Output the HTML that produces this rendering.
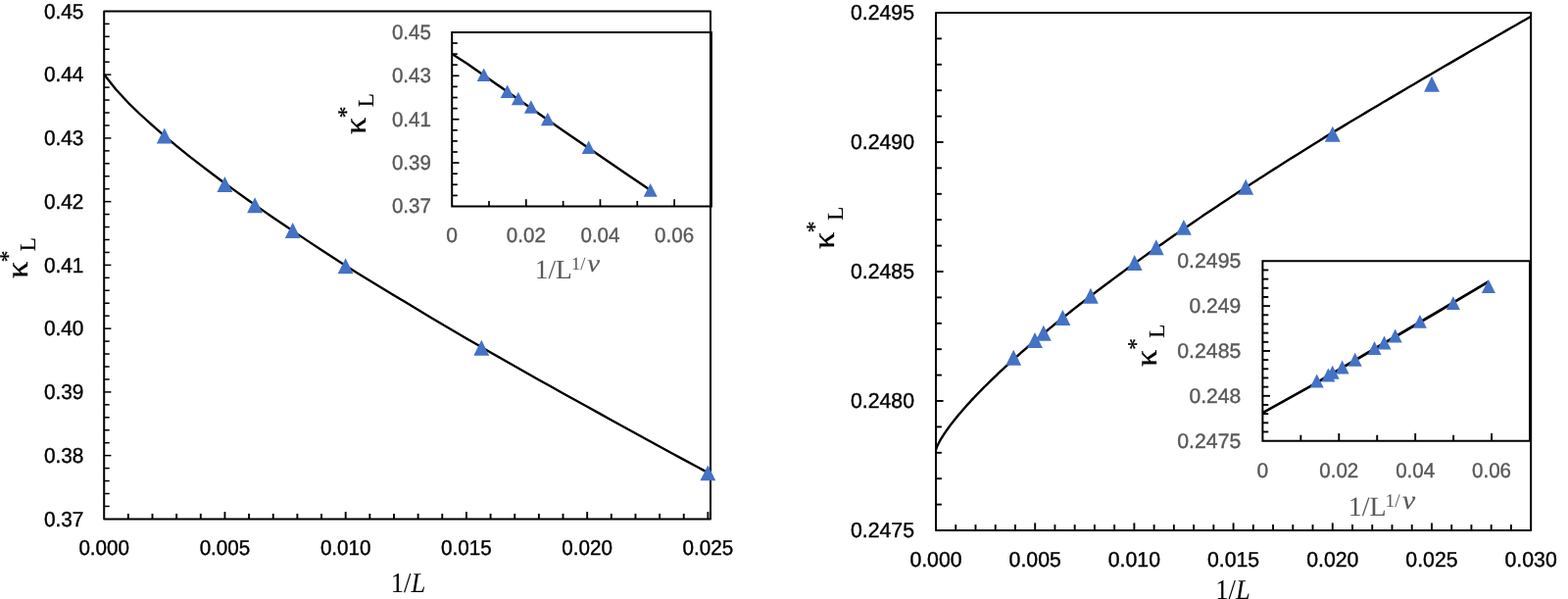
<!DOCTYPE html>
<html lang="en"><head><meta charset="utf-8"><title>Finite-size scaling plots</title>
<style>html,body{margin:0;padding:0;background:#fff;}body{width:1600px;height:611px;overflow:hidden;}svg{display:block;}</style>
</head><body>
<svg width="1600" height="611" viewBox="0 0 1600 611" text-rendering="geometricPrecision">
<rect width="1600" height="611" fill="#fff"/>
<path d="M106.2,529.4 V11.4 H725.0 V529.4 Z" fill="none" stroke="#000" stroke-width="2" stroke-linejoin="round"/>
<line x1="106.20" y1="24.35" x2="111.70" y2="24.35" stroke="#000" stroke-width="1.5"/>
<line x1="106.20" y1="37.30" x2="111.70" y2="37.30" stroke="#000" stroke-width="1.5"/>
<line x1="106.20" y1="50.25" x2="111.70" y2="50.25" stroke="#000" stroke-width="1.5"/>
<line x1="106.20" y1="63.20" x2="111.70" y2="63.20" stroke="#000" stroke-width="1.5"/>
<line x1="106.20" y1="76.15" x2="113.40" y2="76.15" stroke="#000" stroke-width="1.5"/>
<line x1="106.20" y1="89.10" x2="111.70" y2="89.10" stroke="#000" stroke-width="1.5"/>
<line x1="106.20" y1="102.05" x2="111.70" y2="102.05" stroke="#000" stroke-width="1.5"/>
<line x1="106.20" y1="115.00" x2="111.70" y2="115.00" stroke="#000" stroke-width="1.5"/>
<line x1="106.20" y1="127.95" x2="111.70" y2="127.95" stroke="#000" stroke-width="1.5"/>
<line x1="106.20" y1="140.90" x2="113.40" y2="140.90" stroke="#000" stroke-width="1.5"/>
<line x1="106.20" y1="153.85" x2="111.70" y2="153.85" stroke="#000" stroke-width="1.5"/>
<line x1="106.20" y1="166.80" x2="111.70" y2="166.80" stroke="#000" stroke-width="1.5"/>
<line x1="106.20" y1="179.75" x2="111.70" y2="179.75" stroke="#000" stroke-width="1.5"/>
<line x1="106.20" y1="192.70" x2="111.70" y2="192.70" stroke="#000" stroke-width="1.5"/>
<line x1="106.20" y1="205.65" x2="113.40" y2="205.65" stroke="#000" stroke-width="1.5"/>
<line x1="106.20" y1="218.60" x2="111.70" y2="218.60" stroke="#000" stroke-width="1.5"/>
<line x1="106.20" y1="231.55" x2="111.70" y2="231.55" stroke="#000" stroke-width="1.5"/>
<line x1="106.20" y1="244.50" x2="111.70" y2="244.50" stroke="#000" stroke-width="1.5"/>
<line x1="106.20" y1="257.45" x2="111.70" y2="257.45" stroke="#000" stroke-width="1.5"/>
<line x1="106.20" y1="270.40" x2="113.40" y2="270.40" stroke="#000" stroke-width="1.5"/>
<line x1="106.20" y1="283.35" x2="111.70" y2="283.35" stroke="#000" stroke-width="1.5"/>
<line x1="106.20" y1="296.30" x2="111.70" y2="296.30" stroke="#000" stroke-width="1.5"/>
<line x1="106.20" y1="309.25" x2="111.70" y2="309.25" stroke="#000" stroke-width="1.5"/>
<line x1="106.20" y1="322.20" x2="111.70" y2="322.20" stroke="#000" stroke-width="1.5"/>
<line x1="106.20" y1="335.15" x2="113.40" y2="335.15" stroke="#000" stroke-width="1.5"/>
<line x1="106.20" y1="348.10" x2="111.70" y2="348.10" stroke="#000" stroke-width="1.5"/>
<line x1="106.20" y1="361.05" x2="111.70" y2="361.05" stroke="#000" stroke-width="1.5"/>
<line x1="106.20" y1="374.00" x2="111.70" y2="374.00" stroke="#000" stroke-width="1.5"/>
<line x1="106.20" y1="386.95" x2="111.70" y2="386.95" stroke="#000" stroke-width="1.5"/>
<line x1="106.20" y1="399.90" x2="113.40" y2="399.90" stroke="#000" stroke-width="1.5"/>
<line x1="106.20" y1="412.85" x2="111.70" y2="412.85" stroke="#000" stroke-width="1.5"/>
<line x1="106.20" y1="425.80" x2="111.70" y2="425.80" stroke="#000" stroke-width="1.5"/>
<line x1="106.20" y1="438.75" x2="111.70" y2="438.75" stroke="#000" stroke-width="1.5"/>
<line x1="106.20" y1="451.70" x2="111.70" y2="451.70" stroke="#000" stroke-width="1.5"/>
<line x1="106.20" y1="464.65" x2="113.40" y2="464.65" stroke="#000" stroke-width="1.5"/>
<line x1="106.20" y1="477.60" x2="111.70" y2="477.60" stroke="#000" stroke-width="1.5"/>
<line x1="106.20" y1="490.55" x2="111.70" y2="490.55" stroke="#000" stroke-width="1.5"/>
<line x1="106.20" y1="503.50" x2="111.70" y2="503.50" stroke="#000" stroke-width="1.5"/>
<line x1="106.20" y1="516.45" x2="111.70" y2="516.45" stroke="#000" stroke-width="1.5"/>
<line x1="130.85" y1="529.40" x2="130.85" y2="523.90" stroke="#000" stroke-width="1.9"/>
<line x1="155.50" y1="529.40" x2="155.50" y2="523.90" stroke="#000" stroke-width="1.9"/>
<line x1="180.14" y1="529.40" x2="180.14" y2="523.90" stroke="#000" stroke-width="1.9"/>
<line x1="204.79" y1="529.40" x2="204.79" y2="523.90" stroke="#000" stroke-width="1.9"/>
<line x1="229.44" y1="529.40" x2="229.44" y2="522.10" stroke="#000" stroke-width="1.9"/>
<line x1="254.09" y1="529.40" x2="254.09" y2="523.90" stroke="#000" stroke-width="1.9"/>
<line x1="278.74" y1="529.40" x2="278.74" y2="523.90" stroke="#000" stroke-width="1.9"/>
<line x1="303.38" y1="529.40" x2="303.38" y2="523.90" stroke="#000" stroke-width="1.9"/>
<line x1="328.03" y1="529.40" x2="328.03" y2="523.90" stroke="#000" stroke-width="1.9"/>
<line x1="352.68" y1="529.40" x2="352.68" y2="522.10" stroke="#000" stroke-width="1.9"/>
<line x1="377.33" y1="529.40" x2="377.33" y2="523.90" stroke="#000" stroke-width="1.9"/>
<line x1="401.98" y1="529.40" x2="401.98" y2="523.90" stroke="#000" stroke-width="1.9"/>
<line x1="426.62" y1="529.40" x2="426.62" y2="523.90" stroke="#000" stroke-width="1.9"/>
<line x1="451.27" y1="529.40" x2="451.27" y2="523.90" stroke="#000" stroke-width="1.9"/>
<line x1="475.92" y1="529.40" x2="475.92" y2="522.10" stroke="#000" stroke-width="1.9"/>
<line x1="500.57" y1="529.40" x2="500.57" y2="523.90" stroke="#000" stroke-width="1.9"/>
<line x1="525.22" y1="529.40" x2="525.22" y2="523.90" stroke="#000" stroke-width="1.9"/>
<line x1="549.86" y1="529.40" x2="549.86" y2="523.90" stroke="#000" stroke-width="1.9"/>
<line x1="574.51" y1="529.40" x2="574.51" y2="523.90" stroke="#000" stroke-width="1.9"/>
<line x1="599.16" y1="529.40" x2="599.16" y2="522.10" stroke="#000" stroke-width="1.9"/>
<line x1="623.81" y1="529.40" x2="623.81" y2="523.90" stroke="#000" stroke-width="1.9"/>
<line x1="648.46" y1="529.40" x2="648.46" y2="523.90" stroke="#000" stroke-width="1.9"/>
<line x1="673.10" y1="529.40" x2="673.10" y2="523.90" stroke="#000" stroke-width="1.9"/>
<line x1="697.75" y1="529.40" x2="697.75" y2="523.90" stroke="#000" stroke-width="1.9"/>
<line x1="722.40" y1="529.40" x2="722.40" y2="522.10" stroke="#000" stroke-width="1.9"/>
<text x="85.40" y="19.00" text-anchor="end" font-family='"Liberation Sans", sans-serif' font-size="21.6" fill="#000" stroke="#000" stroke-width="0.4" textLength="40.5" lengthAdjust="spacingAndGlyphs">0.45</text>
<text x="85.40" y="83.00" text-anchor="end" font-family='"Liberation Sans", sans-serif' font-size="21.6" fill="#000" stroke="#000" stroke-width="0.4" textLength="40.5" lengthAdjust="spacingAndGlyphs">0.44</text>
<text x="85.40" y="148.00" text-anchor="end" font-family='"Liberation Sans", sans-serif' font-size="21.6" fill="#000" stroke="#000" stroke-width="0.4" textLength="40.5" lengthAdjust="spacingAndGlyphs">0.43</text>
<text x="85.40" y="213.00" text-anchor="end" font-family='"Liberation Sans", sans-serif' font-size="21.6" fill="#000" stroke="#000" stroke-width="0.4" textLength="40.5" lengthAdjust="spacingAndGlyphs">0.42</text>
<text x="85.40" y="278.00" text-anchor="end" font-family='"Liberation Sans", sans-serif' font-size="21.6" fill="#000" stroke="#000" stroke-width="0.4" textLength="40.5" lengthAdjust="spacingAndGlyphs">0.41</text>
<text x="85.40" y="342.00" text-anchor="end" font-family='"Liberation Sans", sans-serif' font-size="21.6" fill="#000" stroke="#000" stroke-width="0.4" textLength="40.5" lengthAdjust="spacingAndGlyphs">0.40</text>
<text x="85.40" y="407.00" text-anchor="end" font-family='"Liberation Sans", sans-serif' font-size="21.6" fill="#000" stroke="#000" stroke-width="0.4" textLength="40.5" lengthAdjust="spacingAndGlyphs">0.39</text>
<text x="85.40" y="472.00" text-anchor="end" font-family='"Liberation Sans", sans-serif' font-size="21.6" fill="#000" stroke="#000" stroke-width="0.4" textLength="40.5" lengthAdjust="spacingAndGlyphs">0.38</text>
<text x="85.40" y="537.00" text-anchor="end" font-family='"Liberation Sans", sans-serif' font-size="21.6" fill="#000" stroke="#000" stroke-width="0.4" textLength="40.5" lengthAdjust="spacingAndGlyphs">0.37</text>
<text x="106.20" y="566.00" text-anchor="middle" font-family='"Liberation Sans", sans-serif' font-size="21.6" fill="#000" stroke="#000" stroke-width="0.4" textLength="51.6" lengthAdjust="spacingAndGlyphs">0.000</text>
<text x="229.44" y="566.00" text-anchor="middle" font-family='"Liberation Sans", sans-serif' font-size="21.6" fill="#000" stroke="#000" stroke-width="0.4" textLength="51.6" lengthAdjust="spacingAndGlyphs">0.005</text>
<text x="352.68" y="566.00" text-anchor="middle" font-family='"Liberation Sans", sans-serif' font-size="21.6" fill="#000" stroke="#000" stroke-width="0.4" textLength="51.6" lengthAdjust="spacingAndGlyphs">0.010</text>
<text x="475.92" y="566.00" text-anchor="middle" font-family='"Liberation Sans", sans-serif' font-size="21.6" fill="#000" stroke="#000" stroke-width="0.4" textLength="51.6" lengthAdjust="spacingAndGlyphs">0.015</text>
<text x="599.16" y="566.00" text-anchor="middle" font-family='"Liberation Sans", sans-serif' font-size="21.6" fill="#000" stroke="#000" stroke-width="0.4" textLength="51.6" lengthAdjust="spacingAndGlyphs">0.020</text>
<text x="722.40" y="566.00" text-anchor="middle" font-family='"Liberation Sans", sans-serif' font-size="21.6" fill="#000" stroke="#000" stroke-width="0.4" textLength="51.6" lengthAdjust="spacingAndGlyphs">0.025</text>
<polyline points="106.20,75.90 118.52,91.57 130.85,104.79 143.17,116.75 155.50,127.94 167.82,138.71 180.14,148.97 192.47,158.82 204.79,168.41 217.12,177.79 229.44,186.96 241.76,195.90 254.09,204.70 266.41,213.37 278.74,221.91 291.06,230.33 303.38,238.64 315.71,246.86 328.03,254.99 340.36,263.03 352.68,270.99 365.00,278.63 377.33,286.20 389.65,293.71 401.98,301.15 414.30,308.60 426.62,316.02 438.95,323.39 451.27,330.70 463.60,337.97 475.92,345.17 488.24,352.33 500.57,359.44 512.89,366.51 525.22,373.55 537.54,380.54 549.86,387.46 562.19,394.33 574.51,401.17 586.84,407.97 599.16,414.74 611.48,421.60 623.81,428.44 636.13,435.24 648.46,442.02 660.78,448.77 673.10,455.49 685.43,462.18 697.75,468.85 710.08,475.49 722.40,482.10" fill="none" stroke="#000" stroke-width="2.35" stroke-linejoin="round"/>
<polygon points="167.80,130.55 175.75,146.45 159.85,146.45" fill="#4472C4"/>
<polygon points="229.40,180.05 237.35,195.95 221.45,195.95" fill="#4472C4"/>
<polygon points="260.10,201.35 268.05,217.25 252.15,217.25" fill="#4472C4"/>
<polygon points="298.70,227.05 306.65,242.95 290.75,242.95" fill="#4472C4"/>
<polygon points="352.60,263.35 360.55,279.25 344.65,279.25" fill="#4472C4"/>
<polygon points="491.30,346.85 499.25,362.75 483.35,362.75" fill="#4472C4"/>
<polygon points="722.40,474.45 730.35,490.35 714.45,490.35" fill="#4472C4"/>
<text x="398.80" y="604.00" text-anchor="start" font-family='"Liberation Serif", serif' font-size="28.8" fill="#000" textLength="35.5" lengthAdjust="spacingAndGlyphs">1/<tspan font-style="italic">L</tspan></text>
<g transform="translate(28.5,283.6) rotate(-90)" fill="#000" stroke="#000"><text font-family='"Liberation Serif", serif' font-size="32" stroke-width="0.28" x="-0.4" y="-0.5" transform="scale(1.08 1)">κ</text><text font-family='"Liberation Serif", serif' font-size="24" stroke-width="0.2" x="16.1" y="-12.3">*</text><text font-family='"Liberation Serif", serif' font-size="23" stroke-width="0.1" x="27.3" y="7.4">L</text></g>
<path d="M461.2,32.9 H725.9 V210.5 H461.2 Z" fill="none" stroke="#000" stroke-width="2"/>
<line x1="461.20" y1="44.00" x2="466.80" y2="44.00" stroke="#000" stroke-width="1.7"/>
<line x1="461.20" y1="55.10" x2="466.80" y2="55.10" stroke="#000" stroke-width="1.7"/>
<line x1="461.20" y1="66.20" x2="466.80" y2="66.20" stroke="#000" stroke-width="1.7"/>
<line x1="461.20" y1="77.30" x2="468.50" y2="77.30" stroke="#000" stroke-width="1.7"/>
<line x1="461.20" y1="88.40" x2="466.80" y2="88.40" stroke="#000" stroke-width="1.7"/>
<line x1="461.20" y1="99.50" x2="466.80" y2="99.50" stroke="#000" stroke-width="1.7"/>
<line x1="461.20" y1="110.60" x2="466.80" y2="110.60" stroke="#000" stroke-width="1.7"/>
<line x1="461.20" y1="121.70" x2="468.50" y2="121.70" stroke="#000" stroke-width="1.7"/>
<line x1="461.20" y1="132.80" x2="466.80" y2="132.80" stroke="#000" stroke-width="1.7"/>
<line x1="461.20" y1="143.90" x2="466.80" y2="143.90" stroke="#000" stroke-width="1.7"/>
<line x1="461.20" y1="155.00" x2="466.80" y2="155.00" stroke="#000" stroke-width="1.7"/>
<line x1="461.20" y1="166.10" x2="468.50" y2="166.10" stroke="#000" stroke-width="1.7"/>
<line x1="461.20" y1="177.20" x2="466.80" y2="177.20" stroke="#000" stroke-width="1.7"/>
<line x1="461.20" y1="188.30" x2="466.80" y2="188.30" stroke="#000" stroke-width="1.7"/>
<line x1="461.20" y1="199.40" x2="466.80" y2="199.40" stroke="#000" stroke-width="1.7"/>
<line x1="499.01" y1="210.50" x2="499.01" y2="204.90" stroke="#000" stroke-width="1.7"/>
<line x1="536.83" y1="210.50" x2="536.83" y2="203.20" stroke="#000" stroke-width="1.7"/>
<line x1="574.64" y1="210.50" x2="574.64" y2="204.90" stroke="#000" stroke-width="1.7"/>
<line x1="612.46" y1="210.50" x2="612.46" y2="203.20" stroke="#000" stroke-width="1.7"/>
<line x1="650.27" y1="210.50" x2="650.27" y2="204.90" stroke="#000" stroke-width="1.7"/>
<line x1="688.09" y1="210.50" x2="688.09" y2="203.20" stroke="#000" stroke-width="1.7"/>
<text x="439.90" y="40.00" text-anchor="end" font-family='"Liberation Sans", sans-serif' font-size="21.0" fill="#595959" stroke="#595959" stroke-width="0.4" textLength="40.0" lengthAdjust="spacingAndGlyphs">0.45</text>
<text x="439.90" y="84.00" text-anchor="end" font-family='"Liberation Sans", sans-serif' font-size="21.0" fill="#595959" stroke="#595959" stroke-width="0.4" textLength="40.0" lengthAdjust="spacingAndGlyphs">0.43</text>
<text x="439.90" y="129.00" text-anchor="end" font-family='"Liberation Sans", sans-serif' font-size="21.0" fill="#595959" stroke="#595959" stroke-width="0.4" textLength="40.0" lengthAdjust="spacingAndGlyphs">0.41</text>
<text x="439.90" y="173.00" text-anchor="end" font-family='"Liberation Sans", sans-serif' font-size="21.0" fill="#595959" stroke="#595959" stroke-width="0.4" textLength="40.0" lengthAdjust="spacingAndGlyphs">0.39</text>
<text x="439.90" y="217.00" text-anchor="end" font-family='"Liberation Sans", sans-serif' font-size="21.0" fill="#595959" stroke="#595959" stroke-width="0.4" textLength="40.0" lengthAdjust="spacingAndGlyphs">0.37</text>
<text x="461.20" y="247.00" text-anchor="middle" font-family='"Liberation Sans", sans-serif' font-size="21.0" fill="#595959" stroke="#595959" stroke-width="0.4">0</text>
<text x="536.83" y="247.00" text-anchor="middle" font-family='"Liberation Sans", sans-serif' font-size="21.0" fill="#595959" stroke="#595959" stroke-width="0.4" textLength="40.0" lengthAdjust="spacingAndGlyphs">0.02</text>
<text x="612.46" y="247.00" text-anchor="middle" font-family='"Liberation Sans", sans-serif' font-size="21.0" fill="#595959" stroke="#595959" stroke-width="0.4" textLength="40.0" lengthAdjust="spacingAndGlyphs">0.04</text>
<text x="688.09" y="247.00" text-anchor="middle" font-family='"Liberation Sans", sans-serif' font-size="21.0" fill="#595959" stroke="#595959" stroke-width="0.4" textLength="40.0" lengthAdjust="spacingAndGlyphs">0.06</text>
<polyline points="461.20,55.00 476.80,65.00 575.00,133.60 640.00,177.90 663.70,194.00" fill="none" stroke="#000" stroke-width="2.4" stroke-linejoin="round"/>
<polygon points="493.70,69.40 500.70,83.00 486.70,83.00" fill="#4472C4"/>
<polygon points="517.70,86.40 524.70,100.00 510.70,100.00" fill="#4472C4"/>
<polygon points="528.90,93.70 535.90,107.30 521.90,107.30" fill="#4472C4"/>
<polygon points="541.90,102.20 548.90,115.80 534.90,115.80" fill="#4472C4"/>
<polygon points="558.90,114.70 565.90,128.30 551.90,128.30" fill="#4472C4"/>
<polygon points="600.70,143.50 607.70,157.10 593.70,157.10" fill="#4472C4"/>
<polygon points="663.70,187.10 670.70,200.70 656.70,200.70" fill="#4472C4"/>
<text x="545.7" y="284" font-family='"Liberation Serif", serif' font-size="27.5" fill="#595959">1/L</text><text x="583.0" y="275" font-family='"Liberation Serif", serif' font-size="18.5" fill="#595959">1/</text><text x="599.2" y="277" font-family='"Liberation Serif", serif' font-size="25.7" font-style="italic" fill="#595959" stroke="#595959" stroke-width="0.15" textLength="12.78" lengthAdjust="spacingAndGlyphs">ν</text>
<g transform="translate(373.0,136.6) rotate(-90)" fill="#000" stroke="#000"><text font-family='"Liberation Serif", serif' font-size="32" stroke-width="0.28" x="-0.4" y="-0.5" transform="scale(1.08 1)">κ</text><text font-family='"Liberation Serif", serif' font-size="24" stroke-width="0.2" x="16.1" y="-12.3">*</text><text font-family='"Liberation Serif", serif' font-size="23" stroke-width="0.1" x="27.3" y="8.3">L</text></g>
<path d="M955.0,541.0 V13.0 H1562.15 V541.0 Z" fill="none" stroke="#000" stroke-width="2" stroke-linejoin="round"/>
<line x1="955.00" y1="39.40" x2="960.90" y2="39.40" stroke="#000" stroke-width="1.9"/>
<line x1="955.00" y1="65.80" x2="960.90" y2="65.80" stroke="#000" stroke-width="1.9"/>
<line x1="955.00" y1="92.20" x2="960.90" y2="92.20" stroke="#000" stroke-width="1.9"/>
<line x1="955.00" y1="118.60" x2="960.90" y2="118.60" stroke="#000" stroke-width="1.9"/>
<line x1="955.00" y1="145.00" x2="962.60" y2="145.00" stroke="#000" stroke-width="1.9"/>
<line x1="955.00" y1="171.40" x2="960.90" y2="171.40" stroke="#000" stroke-width="1.9"/>
<line x1="955.00" y1="197.80" x2="960.90" y2="197.80" stroke="#000" stroke-width="1.9"/>
<line x1="955.00" y1="224.20" x2="960.90" y2="224.20" stroke="#000" stroke-width="1.9"/>
<line x1="955.00" y1="250.60" x2="960.90" y2="250.60" stroke="#000" stroke-width="1.9"/>
<line x1="955.00" y1="277.00" x2="962.60" y2="277.00" stroke="#000" stroke-width="1.9"/>
<line x1="955.00" y1="303.40" x2="960.90" y2="303.40" stroke="#000" stroke-width="1.9"/>
<line x1="955.00" y1="329.80" x2="960.90" y2="329.80" stroke="#000" stroke-width="1.9"/>
<line x1="955.00" y1="356.20" x2="960.90" y2="356.20" stroke="#000" stroke-width="1.9"/>
<line x1="955.00" y1="382.60" x2="960.90" y2="382.60" stroke="#000" stroke-width="1.9"/>
<line x1="955.00" y1="409.00" x2="962.60" y2="409.00" stroke="#000" stroke-width="1.9"/>
<line x1="955.00" y1="435.40" x2="960.90" y2="435.40" stroke="#000" stroke-width="1.9"/>
<line x1="955.00" y1="461.80" x2="960.90" y2="461.80" stroke="#000" stroke-width="1.9"/>
<line x1="955.00" y1="488.20" x2="960.90" y2="488.20" stroke="#000" stroke-width="1.9"/>
<line x1="955.00" y1="514.60" x2="960.90" y2="514.60" stroke="#000" stroke-width="1.9"/>
<line x1="975.24" y1="541.00" x2="975.24" y2="535.10" stroke="#000" stroke-width="1.9"/>
<line x1="995.48" y1="541.00" x2="995.48" y2="535.10" stroke="#000" stroke-width="1.9"/>
<line x1="1015.72" y1="541.00" x2="1015.72" y2="535.10" stroke="#000" stroke-width="1.9"/>
<line x1="1035.95" y1="541.00" x2="1035.95" y2="535.10" stroke="#000" stroke-width="1.9"/>
<line x1="1056.19" y1="541.00" x2="1056.19" y2="533.40" stroke="#000" stroke-width="1.9"/>
<line x1="1076.43" y1="541.00" x2="1076.43" y2="535.10" stroke="#000" stroke-width="1.9"/>
<line x1="1096.67" y1="541.00" x2="1096.67" y2="535.10" stroke="#000" stroke-width="1.9"/>
<line x1="1116.91" y1="541.00" x2="1116.91" y2="535.10" stroke="#000" stroke-width="1.9"/>
<line x1="1137.14" y1="541.00" x2="1137.14" y2="535.10" stroke="#000" stroke-width="1.9"/>
<line x1="1157.38" y1="541.00" x2="1157.38" y2="533.40" stroke="#000" stroke-width="1.9"/>
<line x1="1177.62" y1="541.00" x2="1177.62" y2="535.10" stroke="#000" stroke-width="1.9"/>
<line x1="1197.86" y1="541.00" x2="1197.86" y2="535.10" stroke="#000" stroke-width="1.9"/>
<line x1="1218.10" y1="541.00" x2="1218.10" y2="535.10" stroke="#000" stroke-width="1.9"/>
<line x1="1238.34" y1="541.00" x2="1238.34" y2="535.10" stroke="#000" stroke-width="1.9"/>
<line x1="1258.58" y1="541.00" x2="1258.58" y2="533.40" stroke="#000" stroke-width="1.9"/>
<line x1="1278.81" y1="541.00" x2="1278.81" y2="535.10" stroke="#000" stroke-width="1.9"/>
<line x1="1299.05" y1="541.00" x2="1299.05" y2="535.10" stroke="#000" stroke-width="1.9"/>
<line x1="1319.29" y1="541.00" x2="1319.29" y2="535.10" stroke="#000" stroke-width="1.9"/>
<line x1="1339.53" y1="541.00" x2="1339.53" y2="535.10" stroke="#000" stroke-width="1.9"/>
<line x1="1359.77" y1="541.00" x2="1359.77" y2="533.40" stroke="#000" stroke-width="1.9"/>
<line x1="1380.01" y1="541.00" x2="1380.01" y2="535.10" stroke="#000" stroke-width="1.9"/>
<line x1="1400.24" y1="541.00" x2="1400.24" y2="535.10" stroke="#000" stroke-width="1.9"/>
<line x1="1420.48" y1="541.00" x2="1420.48" y2="535.10" stroke="#000" stroke-width="1.9"/>
<line x1="1440.72" y1="541.00" x2="1440.72" y2="535.10" stroke="#000" stroke-width="1.9"/>
<line x1="1460.96" y1="541.00" x2="1460.96" y2="533.40" stroke="#000" stroke-width="1.9"/>
<line x1="1481.20" y1="541.00" x2="1481.20" y2="535.10" stroke="#000" stroke-width="1.9"/>
<line x1="1501.43" y1="541.00" x2="1501.43" y2="535.10" stroke="#000" stroke-width="1.9"/>
<line x1="1521.67" y1="541.00" x2="1521.67" y2="535.10" stroke="#000" stroke-width="1.9"/>
<line x1="1541.91" y1="541.00" x2="1541.91" y2="535.10" stroke="#000" stroke-width="1.9"/>
<text x="933.00" y="20.00" text-anchor="end" font-family='"Liberation Sans", sans-serif' font-size="21.6" fill="#000" stroke="#000" stroke-width="0.4" textLength="65.0" lengthAdjust="spacingAndGlyphs">0.2495</text>
<text x="933.00" y="152.00" text-anchor="end" font-family='"Liberation Sans", sans-serif' font-size="21.6" fill="#000" stroke="#000" stroke-width="0.4" textLength="65.0" lengthAdjust="spacingAndGlyphs">0.2490</text>
<text x="933.00" y="284.00" text-anchor="end" font-family='"Liberation Sans", sans-serif' font-size="21.6" fill="#000" stroke="#000" stroke-width="0.4" textLength="65.0" lengthAdjust="spacingAndGlyphs">0.2485</text>
<text x="933.00" y="416.00" text-anchor="end" font-family='"Liberation Sans", sans-serif' font-size="21.6" fill="#000" stroke="#000" stroke-width="0.4" textLength="65.0" lengthAdjust="spacingAndGlyphs">0.2480</text>
<text x="933.00" y="548.00" text-anchor="end" font-family='"Liberation Sans", sans-serif' font-size="21.6" fill="#000" stroke="#000" stroke-width="0.4" textLength="65.0" lengthAdjust="spacingAndGlyphs">0.2475</text>
<text x="955.00" y="578.00" text-anchor="middle" font-family='"Liberation Sans", sans-serif' font-size="21.6" fill="#000" stroke="#000" stroke-width="0.4" textLength="53.2" lengthAdjust="spacingAndGlyphs">0.000</text>
<text x="1056.19" y="578.00" text-anchor="middle" font-family='"Liberation Sans", sans-serif' font-size="21.6" fill="#000" stroke="#000" stroke-width="0.4" textLength="53.2" lengthAdjust="spacingAndGlyphs">0.005</text>
<text x="1157.38" y="578.00" text-anchor="middle" font-family='"Liberation Sans", sans-serif' font-size="21.6" fill="#000" stroke="#000" stroke-width="0.4" textLength="53.2" lengthAdjust="spacingAndGlyphs">0.010</text>
<text x="1258.58" y="578.00" text-anchor="middle" font-family='"Liberation Sans", sans-serif' font-size="21.6" fill="#000" stroke="#000" stroke-width="0.4" textLength="53.2" lengthAdjust="spacingAndGlyphs">0.015</text>
<text x="1359.77" y="578.00" text-anchor="middle" font-family='"Liberation Sans", sans-serif' font-size="21.6" fill="#000" stroke="#000" stroke-width="0.4" textLength="53.2" lengthAdjust="spacingAndGlyphs">0.020</text>
<text x="1460.96" y="578.00" text-anchor="middle" font-family='"Liberation Sans", sans-serif' font-size="21.6" fill="#000" stroke="#000" stroke-width="0.4" textLength="53.2" lengthAdjust="spacingAndGlyphs">0.025</text>
<text x="1562.15" y="578.00" text-anchor="middle" font-family='"Liberation Sans", sans-serif' font-size="21.6" fill="#000" stroke="#000" stroke-width="0.4" textLength="53.2" lengthAdjust="spacingAndGlyphs">0.030</text>
<polyline points="955.00,459.20 955.01,459.10 955.04,458.92 955.09,458.67 955.17,458.38 955.26,458.04 955.38,457.67 955.52,457.26 955.67,456.82 955.85,456.35 956.05,455.84 956.28,455.32 956.52,454.76 956.78,454.18 957.07,453.57 957.37,452.94 957.70,452.29 958.05,451.62 958.42,450.92 958.81,450.21 959.22,449.47 959.65,448.71 960.10,447.93 960.58,447.14 961.07,446.32 961.59,445.49 962.13,444.64 962.68,443.77 963.26,442.88 963.86,441.98 964.49,441.06 965.13,440.12 965.79,439.17 966.48,438.20 967.19,437.21 967.91,436.21 968.66,435.20 969.43,434.16 970.22,433.12 971.03,432.06 971.87,430.98 972.72,429.89 973.59,428.78 974.49,427.66 975.41,426.53 976.35,425.38 977.30,424.22 978.28,423.05 979.29,421.86 980.31,420.66 981.35,419.44 982.42,418.21 983.50,416.97 984.61,415.72 985.74,414.45 986.89,413.17 988.06,411.88 989.25,410.58 990.46,409.26 991.69,407.93 992.95,406.59 994.22,405.24 995.52,403.87 996.84,402.50 998.18,401.11 999.53,399.71 1000.92,398.30 1002.32,396.88 1003.74,395.44 1005.18,393.99 1006.65,392.54 1008.14,391.07 1009.64,389.59 1011.17,388.10 1012.72,386.60 1014.29,385.09 1015.88,383.56 1017.50,382.03 1019.13,380.48 1020.79,378.93 1022.46,377.36 1024.16,375.79 1025.88,374.20 1027.62,372.60 1029.38,370.99 1031.16,369.37 1032.96,367.75 1034.78,366.11 1036.63,364.46 1038.49,362.80 1040.38,361.13 1042.29,359.45 1044.22,357.76 1046.17,356.07 1048.14,354.36 1050.13,352.64 1052.14,350.91 1054.18,349.17 1056.23,347.43 1058.31,345.67 1060.41,343.90 1062.53,342.13 1064.67,340.34 1066.83,338.55 1069.01,336.75 1071.21,334.93 1073.44,333.11 1075.68,331.28 1077.95,329.44 1080.24,327.59 1082.54,325.73 1084.87,323.86 1087.22,321.98 1089.60,320.10 1091.99,318.20 1094.40,316.30 1096.84,314.38 1099.29,312.46 1101.77,310.53 1104.27,308.59 1106.79,306.64 1109.33,304.69 1111.89,302.72 1114.47,300.75 1117.08,298.76 1119.70,296.77 1122.35,294.77 1125.01,292.76 1127.70,290.74 1130.41,288.72 1133.14,286.68 1135.89,284.64 1138.66,282.59 1141.46,280.53 1144.27,278.46 1147.11,276.39 1149.96,274.30 1152.84,272.21 1155.74,270.11 1158.66,268.00 1161.60,265.89 1164.56,263.76 1167.54,261.63 1170.55,259.49 1173.57,257.34 1176.62,255.18 1179.69,253.02 1182.78,250.84 1185.89,248.66 1189.02,246.47 1192.17,244.28 1195.34,242.07 1198.53,239.86 1201.75,237.64 1204.99,235.41 1208.24,233.17 1211.52,230.93 1214.82,228.68 1218.14,226.42 1221.48,224.15 1224.84,221.88 1228.23,219.60 1231.63,217.31 1235.06,215.01 1238.51,212.70 1241.97,210.39 1245.46,208.07 1248.97,205.74 1252.50,203.41 1256.06,201.07 1259.63,198.72 1263.22,196.36 1266.84,193.99 1270.48,191.62 1274.13,189.24 1277.81,186.86 1281.51,184.46 1285.23,182.06 1288.97,179.65 1292.74,177.24 1296.52,174.81 1300.33,172.38 1304.15,169.95 1308.00,167.50 1311.87,165.05 1315.76,162.59 1319.67,160.12 1323.60,157.65 1327.55,155.17 1331.53,152.68 1335.52,150.19 1339.54,147.69 1343.58,145.18 1347.63,142.66 1351.71,140.14 1355.81,137.62 1359.94,135.13 1364.08,132.63 1368.24,130.12 1372.43,127.61 1376.63,125.08 1380.86,122.55 1385.11,120.01 1389.38,117.45 1393.67,114.90 1397.98,112.33 1402.31,109.75 1406.66,107.16 1411.04,104.57 1415.43,101.97 1419.85,99.35 1424.29,96.73 1428.75,94.10 1433.23,91.46 1437.73,88.82 1442.25,86.16 1446.79,83.49 1451.36,80.82 1455.94,78.14 1460.55,75.44 1465.17,72.74 1469.82,70.03 1474.49,67.31 1479.18,64.59 1483.90,61.85 1488.63,59.10 1493.38,56.35 1498.16,53.58 1502.95,50.81 1507.77,48.02 1512.61,45.23 1517.47,42.43 1522.35,39.62 1527.25,36.80 1532.17,33.97 1537.12,31.13 1542.08,28.28 1547.07,25.43 1552.07,22.56 1557.10,19.69 1562.15,16.80" fill="none" stroke="#000" stroke-width="2.4" stroke-linejoin="round"/>
<polygon points="1034.20,356.75 1042.15,372.65 1026.25,372.65" fill="#4472C4"/>
<polygon points="1056.00,339.05 1063.95,354.95 1048.05,354.95" fill="#4472C4"/>
<polygon points="1064.80,331.85 1072.75,347.75 1056.85,347.75" fill="#4472C4"/>
<polygon points="1084.40,316.05 1092.35,331.95 1076.45,331.95" fill="#4472C4"/>
<polygon points="1112.90,293.75 1120.85,309.65 1104.95,309.65" fill="#4472C4"/>
<polygon points="1157.70,260.05 1165.65,275.95 1149.75,275.95" fill="#4472C4"/>
<polygon points="1179.80,244.35 1187.75,260.25 1171.85,260.25" fill="#4472C4"/>
<polygon points="1207.90,223.95 1215.85,239.85 1199.95,239.85" fill="#4472C4"/>
<polygon points="1271.20,182.75 1279.15,198.65 1263.25,198.65" fill="#4472C4"/>
<polygon points="1359.80,128.85 1367.75,144.75 1351.85,144.75" fill="#4472C4"/>
<polygon points="1461.00,77.85 1468.95,93.75 1453.05,93.75" fill="#4472C4"/>
<text x="1240.20" y="611.00" text-anchor="start" font-family='"Liberation Serif", serif' font-size="28.8" fill="#000" textLength="35.5" lengthAdjust="spacingAndGlyphs">1/<tspan font-style="italic">L</tspan></text>
<g transform="translate(851.8,253.7) rotate(-90)" fill="#000" stroke="#000"><text font-family='"Liberation Serif", serif' font-size="32" stroke-width="0.28" x="-0.4" y="-0.5" transform="scale(1.08 1)">κ</text><text font-family='"Liberation Serif", serif' font-size="24" stroke-width="0.2" x="16.1" y="-13.2">*</text><text font-family='"Liberation Serif", serif' font-size="23" stroke-width="0.1" x="29.0" y="8.4">L</text></g>
<path d="M1288.4,266.3 H1561.0 V449.65 H1288.4 Z" fill="none" stroke="#000" stroke-width="2"/>
<line x1="1288.40" y1="275.47" x2="1294.30" y2="275.47" stroke="#000" stroke-width="1.9"/>
<line x1="1288.40" y1="284.63" x2="1294.30" y2="284.63" stroke="#000" stroke-width="1.9"/>
<line x1="1288.40" y1="293.80" x2="1294.30" y2="293.80" stroke="#000" stroke-width="1.9"/>
<line x1="1288.40" y1="302.97" x2="1294.30" y2="302.97" stroke="#000" stroke-width="1.9"/>
<line x1="1288.40" y1="312.14" x2="1296.00" y2="312.14" stroke="#000" stroke-width="1.9"/>
<line x1="1288.40" y1="321.31" x2="1294.30" y2="321.31" stroke="#000" stroke-width="1.9"/>
<line x1="1288.40" y1="330.47" x2="1294.30" y2="330.47" stroke="#000" stroke-width="1.9"/>
<line x1="1288.40" y1="339.64" x2="1294.30" y2="339.64" stroke="#000" stroke-width="1.9"/>
<line x1="1288.40" y1="348.81" x2="1294.30" y2="348.81" stroke="#000" stroke-width="1.9"/>
<line x1="1288.40" y1="357.98" x2="1296.00" y2="357.98" stroke="#000" stroke-width="1.9"/>
<line x1="1288.40" y1="367.14" x2="1294.30" y2="367.14" stroke="#000" stroke-width="1.9"/>
<line x1="1288.40" y1="376.31" x2="1294.30" y2="376.31" stroke="#000" stroke-width="1.9"/>
<line x1="1288.40" y1="385.48" x2="1294.30" y2="385.48" stroke="#000" stroke-width="1.9"/>
<line x1="1288.40" y1="394.64" x2="1294.30" y2="394.64" stroke="#000" stroke-width="1.9"/>
<line x1="1288.40" y1="403.81" x2="1296.00" y2="403.81" stroke="#000" stroke-width="1.9"/>
<line x1="1288.40" y1="412.98" x2="1294.30" y2="412.98" stroke="#000" stroke-width="1.9"/>
<line x1="1288.40" y1="422.15" x2="1294.30" y2="422.15" stroke="#000" stroke-width="1.9"/>
<line x1="1288.40" y1="431.31" x2="1294.30" y2="431.31" stroke="#000" stroke-width="1.9"/>
<line x1="1288.40" y1="440.48" x2="1294.30" y2="440.48" stroke="#000" stroke-width="1.9"/>
<line x1="1327.34" y1="449.65" x2="1327.34" y2="443.75" stroke="#000" stroke-width="1.9"/>
<line x1="1366.29" y1="449.65" x2="1366.29" y2="442.05" stroke="#000" stroke-width="1.9"/>
<line x1="1405.23" y1="449.65" x2="1405.23" y2="443.75" stroke="#000" stroke-width="1.9"/>
<line x1="1444.17" y1="449.65" x2="1444.17" y2="442.05" stroke="#000" stroke-width="1.9"/>
<line x1="1483.11" y1="449.65" x2="1483.11" y2="443.75" stroke="#000" stroke-width="1.9"/>
<line x1="1522.06" y1="449.65" x2="1522.06" y2="442.05" stroke="#000" stroke-width="1.9"/>
<text x="1266.30" y="273.00" text-anchor="end" font-family='"Liberation Sans", sans-serif' font-size="21.0" fill="#595959" stroke="#595959" stroke-width="0.4" textLength="65.0" lengthAdjust="spacingAndGlyphs">0.2495</text>
<text x="1266.30" y="319.00" text-anchor="end" font-family='"Liberation Sans", sans-serif' font-size="21.0" fill="#595959" stroke="#595959" stroke-width="0.4" textLength="52.8" lengthAdjust="spacingAndGlyphs">0.249</text>
<text x="1266.30" y="365.00" text-anchor="end" font-family='"Liberation Sans", sans-serif' font-size="21.0" fill="#595959" stroke="#595959" stroke-width="0.4" textLength="65.0" lengthAdjust="spacingAndGlyphs">0.2485</text>
<text x="1266.30" y="411.00" text-anchor="end" font-family='"Liberation Sans", sans-serif' font-size="21.0" fill="#595959" stroke="#595959" stroke-width="0.4" textLength="52.8" lengthAdjust="spacingAndGlyphs">0.248</text>
<text x="1266.30" y="457.00" text-anchor="end" font-family='"Liberation Sans", sans-serif' font-size="21.0" fill="#595959" stroke="#595959" stroke-width="0.4" textLength="65.0" lengthAdjust="spacingAndGlyphs">0.2475</text>
<text x="1288.40" y="487.00" text-anchor="middle" font-family='"Liberation Sans", sans-serif' font-size="21.0" fill="#595959" stroke="#595959" stroke-width="0.4">0</text>
<text x="1366.29" y="487.00" text-anchor="middle" font-family='"Liberation Sans", sans-serif' font-size="21.0" fill="#595959" stroke="#595959" stroke-width="0.4" textLength="40.0" lengthAdjust="spacingAndGlyphs">0.02</text>
<text x="1444.17" y="487.00" text-anchor="middle" font-family='"Liberation Sans", sans-serif' font-size="21.0" fill="#595959" stroke="#595959" stroke-width="0.4" textLength="40.0" lengthAdjust="spacingAndGlyphs">0.04</text>
<text x="1522.06" y="487.00" text-anchor="middle" font-family='"Liberation Sans", sans-serif' font-size="21.0" fill="#595959" stroke="#595959" stroke-width="0.4" textLength="40.0" lengthAdjust="spacingAndGlyphs">0.06</text>
<polyline points="1288.40,421.10 1337.00,394.10 1395.00,360.20 1465.00,319.20 1519.20,287.10" fill="none" stroke="#000" stroke-width="2.8" stroke-linejoin="round"/>
<polygon points="1343.70,381.60 1350.70,395.50 1336.70,395.50" fill="#4472C4"/>
<polygon points="1355.40,375.60 1362.40,389.50 1348.40,389.50" fill="#4472C4"/>
<polygon points="1359.70,372.80 1366.70,386.70 1352.70,386.70" fill="#4472C4"/>
<polygon points="1369.60,367.60 1376.60,381.50 1362.60,381.50" fill="#4472C4"/>
<polygon points="1382.70,359.80 1389.70,373.70 1375.70,373.70" fill="#4472C4"/>
<polygon points="1402.50,348.00 1409.50,361.90 1395.50,361.90" fill="#4472C4"/>
<polygon points="1412.50,342.60 1419.50,356.50 1405.50,356.50" fill="#4472C4"/>
<polygon points="1423.70,335.50 1430.70,349.40 1416.70,349.40" fill="#4472C4"/>
<polygon points="1448.90,320.90 1455.90,334.80 1441.90,334.80" fill="#4472C4"/>
<polygon points="1482.90,302.20 1489.90,316.10 1475.90,316.10" fill="#4472C4"/>
<polygon points="1518.90,285.00 1525.90,298.90 1511.90,298.90" fill="#4472C4"/>
<text x="1375.7" y="526" font-family='"Liberation Serif", serif' font-size="28.0" fill="#595959">1/L</text><text x="1413.6" y="517" font-family='"Liberation Serif", serif' font-size="19.4" fill="#595959">1/</text><text x="1431.0" y="519" font-family='"Liberation Serif", serif' font-size="26.5" font-style="italic" fill="#595959" stroke="#595959" stroke-width="0.15" textLength="13.18" lengthAdjust="spacingAndGlyphs">ν</text>
<g transform="translate(1180.1,373.7) rotate(-90)" fill="#000" stroke="#000"><text font-family='"Liberation Serif", serif' font-size="32" stroke-width="0.28" x="-0.4" y="-0.5" transform="scale(1.08 1)">κ</text><text font-family='"Liberation Serif", serif' font-size="24" stroke-width="0.2" x="16.7" y="-13.2">*</text><text font-family='"Liberation Serif", serif' font-size="23" stroke-width="0.1" x="29.0" y="7.4">L</text></g>
</svg>
</body></html>
